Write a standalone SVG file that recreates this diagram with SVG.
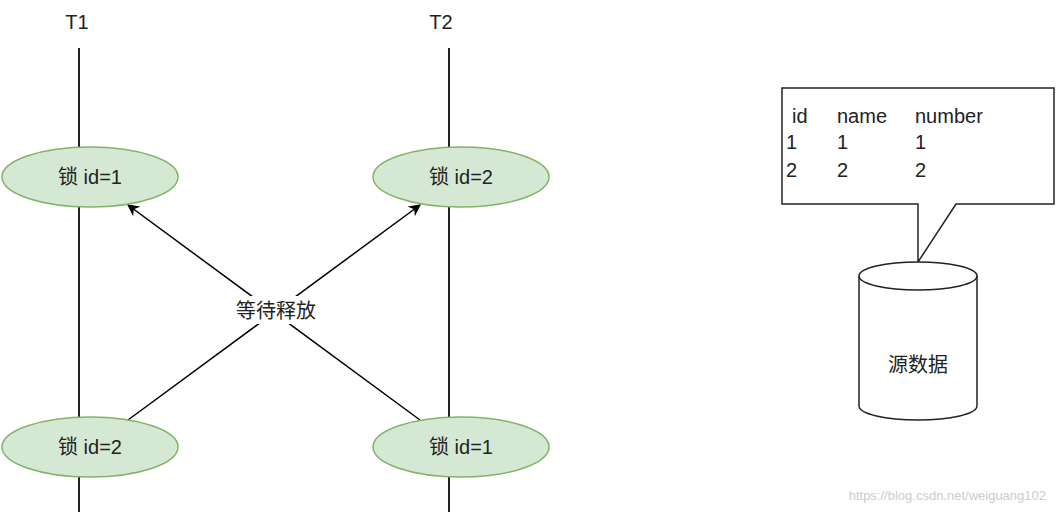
<svg xmlns="http://www.w3.org/2000/svg" width="1056" height="512" viewBox="0 0 1056 512">
<style>
text{font-family:"Liberation Sans","Noto Sans CJK SC",sans-serif;font-size:20px;fill:#222}
.l{stroke:#222;stroke-width:2;fill:none}
.e{fill:#d5e8d4;stroke:#82b366;stroke-width:1.5}
.c{text-anchor:middle}
</style>
<defs><marker id="a" viewBox="0 0 10 10" refX="9" refY="5" markerWidth="8" markerHeight="8" orient="auto"><path d="M0,0L10,5L0,10L3,5z" fill="#000"/></marker></defs>
<rect width="1056" height="512" fill="#fff"/>
<g id="t1"><text class="c" x="77" y="29">T1</text><line class="l" x1="79" y1="48" x2="79" y2="512"/></g>
<g id="t2"><text class="c" x="441" y="29">T2</text><line class="l" x1="449" y1="48" x2="449" y2="512"/></g>
<g id="connectors">
<line x1="128" y1="420" x2="420" y2="205" stroke="#000" stroke-width="1.5" marker-end="url(#a)"/>
<line x1="420" y1="420" x2="128" y2="205" stroke="#000" stroke-width="1.5" marker-end="url(#a)"/>
<rect x="228" y="296" width="96" height="28" fill="#fff"/>
<text class="c" x="276" y="318">等待释放</text>
</g>
<g id="n1"><ellipse class="e" cx="90" cy="177" rx="88" ry="30"/><text class="c" x="90" y="184">锁 id=1</text></g>
<g id="n2"><ellipse class="e" cx="461" cy="177" rx="88" ry="30"/><text class="c" x="461" y="184">锁 id=2</text></g>
<g id="n3"><ellipse class="e" cx="90" cy="447" rx="88" ry="30"/><text class="c" x="90" y="454">锁 id=2</text></g>
<g id="n4"><ellipse class="e" cx="461" cy="447" rx="88" ry="30"/><text class="c" x="461" y="454">锁 id=1</text></g>
<g id="callout">
<path d="M782,88H1054V204H956L918,262V204H782Z" fill="#fff" stroke="#222" stroke-width="1.5"/>
<text x="792" y="123">id</text><text x="837" y="123">name</text><text x="915" y="123">number</text>
<text x="786" y="149">1</text><text x="837" y="149">1</text><text x="915" y="149">1</text>
<text x="786" y="177">2</text><text x="837" y="177">2</text><text x="915" y="177">2</text>
</g>
<g id="db">
<path d="M859,276A59,14 0 0 1 977,276V406A59,14 0 0 1 859,406Z" fill="#fff" stroke="#222" stroke-width="1.5"/>
<path d="M859,276A59,14 0 0 0 977,276" fill="none" stroke="#222" stroke-width="1.5"/>
<text class="c" x="918" y="372">源数据</text>
</g>
<text x="1046" y="500" text-anchor="end" style="font-size:13px;fill:#ccc">https://blog.csdn.net/weiguang102</text>
</svg>
